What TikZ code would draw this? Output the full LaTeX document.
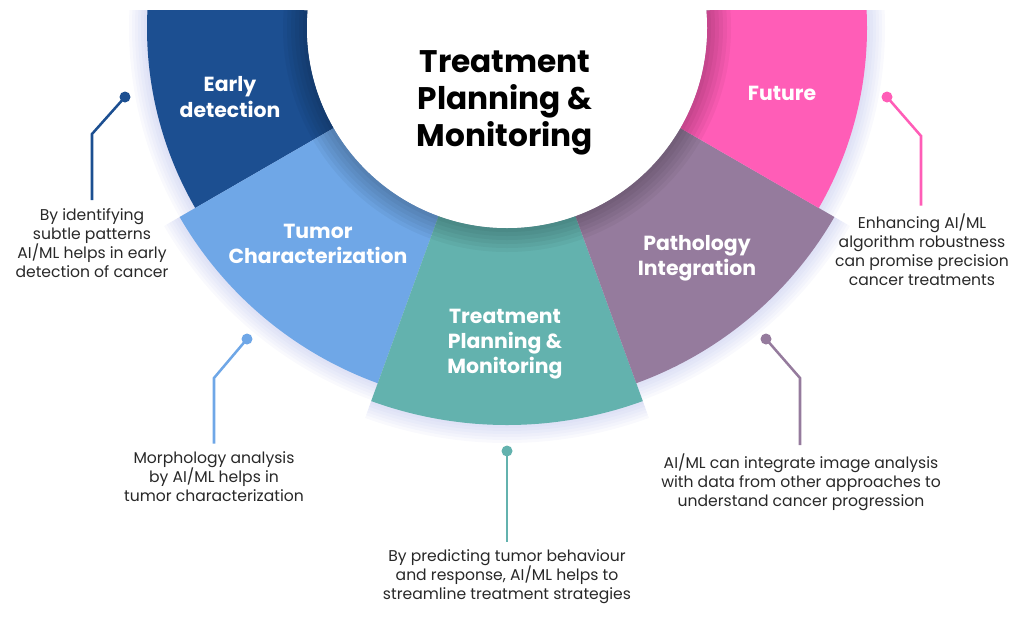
\documentclass[tikz,border=0pt]{standalone}
\usepackage{fontspec}
\setmainfont{Poppins}
\usetikzlibrary{positioning}
\usetikzlibrary{calc}
\definecolor{early}{RGB}{28,79,145}
\definecolor{tumor}{RGB}{111,167,231}
\definecolor{treat}{RGB}{99,178,174}
\definecolor{patho}{RGB}{149,123,157}
\definecolor{future}{RGB}{255,93,183}
\definecolor{glow}{RGB}{150,160,225}
\definecolor{notegray}{RGB}{40,40,40}

% one piece of the ring: style, start angle, end angle, outer radius
\newcommand{\ringpart}[4]{%
  \fill[#1, shift={(507,28)}] (#2:200) arc[start angle=#2, end angle=#3, radius=200]
    -- (#3:#4) arc[start angle=#3, end angle=#2, radius=#4] -- cycle;}

\begin{document}
\begin{tikzpicture}[x=0.75pt, y=-0.75pt,
    segtitle/.style={text=white, font=\fontsize{15.3}{18.8}\selectfont\bfseries, align=center},
    maintitle/.style={text=black, font=\fontsize{23.4}{27.8}\selectfont\bfseries, align=center},
    note/.style={text=notegray, font=\fontsize{11.7}{14.3}\selectfont, align=center, inner sep=6pt},
    callout/.style={line width=1.9pt}]
    \useasboundingbox (0,0) rectangle (1024,640);

    % soft glow round the ring
    \begin{scope}
        \clip (0,10) rectangle (1024,640);
        \foreach \k in {3,6,...,18} {
            \ringpart{glow, opacity=0.06}{150}{185}{360+\k}
            \ringpart{glow, opacity=0.06}{110}{150}{378+\k}
            \ringpart{glow, opacity=0.06}{70}{110}{397+\k}
            \ringpart{glow, opacity=0.06}{30}{70}{378+\k}
            \ringpart{glow, opacity=0.06}{-5}{30}{360+\k}
        }
    \end{scope}

    % the five pieces
    \begin{scope}
        \clip (0,10) rectangle (1024,640);
        \ringpart{early}{150}{185}{360}
        \ringpart{tumor}{110}{150}{378}
        \ringpart{treat}{70}{110}{397}
        \ringpart{patho}{30}{70}{378}
        \ringpart{future}{-5}{30}{360}
        % shadow of the hub
        \foreach \r in {204,208,...,224}
            \fill[black, opacity=0.04] (507,28) circle (\r);
    \end{scope}

    % hub
    \fill[white] (507,28) circle (200);
    \node[maintitle] (hub) at (505,103) {Treatment\\Planning \&\\Monitoring};

    \node[segtitle] (earlyT) at (230,97) {Early\\detection};
    \node[segtitle] (tumorT) at (318,244) {Tumor\\Characterization};
    \node[segtitle] (treatT) at (505,344) {Treatment\\Planning \&\\Monitoring};
    \node[segtitle] (pathoT) at (697,258) {Pathology\\Integration};
    \node[segtitle] (futureT) at (782,93) {Future};

    % callouts
    \node[note] (earlyN) at (92,243) {By identifying\\subtle patterns\\AI/ML helps in early\\detection of cancer};
    \node[note] (tumorN) at (214,477) {Morphology analysis\\by AI/ML helps in\\tumor characterization};
    \node[note] (treatN) at (507,577) {By predicting tumor behaviour\\and response, AI/ML helps to\\streamline treatment strategies};
    \node[note] (pathoN) at (801,482) {AI/ML can integrate image analysis\\with data from other approaches to\\understand cancer progression};
    \node[note] (futureN) at (922,250) {Enhancing AI/ML\\algorithm robustness\\can promise precision\\cancer treatments};

    \coordinate (earlyD) at (125,97);
    \coordinate (earlyB) at (92,134);
    \coordinate (tumorD) at (247,339);
    \coordinate (tumorB) at (214,378);
    \coordinate (treatD) at (507,451);
    \coordinate (pathoD) at (766,339);
    \coordinate (pathoB) at (800,378);
    \coordinate (futureD) at (887,97);
    \coordinate (futureB) at (921,136);

    \draw[callout, early] (earlyD) -- (earlyB) -- (earlyB |- earlyN.north);
    \fill[early] (earlyD) circle (5.5);
    \draw[callout, tumor] (tumorD) -- (tumorB) -- (tumorB |- tumorN.north);
    \fill[tumor] (tumorD) circle (5.5);
    \draw[callout, treat] (treatD) -- (treatN.north);
    \fill[treat] (treatD) circle (5.5);
    \draw[callout, patho] (pathoD) -- (pathoB) -- (pathoB |- pathoN.north);
    \fill[patho] (pathoD) circle (5.5);
    \draw[callout, future] (futureD) -- (futureB) -- (futureB |- futureN.north);
    \fill[future] (futureD) circle (5.5);
\end{tikzpicture}
\end{document}
